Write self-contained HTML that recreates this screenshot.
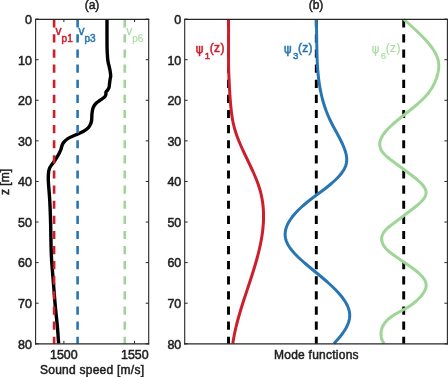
<!DOCTYPE html><html><head><meta charset="utf-8"><style>html,body{margin:0;padding:0;background:#fff;overflow:hidden}svg{display:block;filter:blur(0.3px)}</style></head><body><svg width="448" height="377" viewBox="0 0 448 377" font-family="Liberation Sans, Arial, Helvetica, sans-serif"><rect width="448" height="377" fill="#fff"/><path d="M107.00,19.00 C107.00,21.67 106.98,30.00 107.00,35.00 C107.02,40.00 107.00,45.17 107.10,49.00 C107.20,52.83 107.42,55.75 107.60,58.00 C107.78,60.25 107.92,61.00 108.20,62.50 C108.48,64.00 108.97,65.50 109.30,67.00 C109.63,68.50 109.97,70.00 110.20,71.50 C110.43,73.00 110.70,74.80 110.70,76.00 C110.70,77.20 110.38,77.53 110.20,78.70 C110.02,79.87 109.80,81.53 109.60,83.00 C109.40,84.47 109.35,86.30 109.00,87.50 C108.65,88.70 108.00,89.45 107.50,90.20 C107.00,90.95 106.28,91.25 106.00,92.00 C105.72,92.75 106.10,93.80 105.80,94.70 C105.50,95.60 105.12,96.50 104.20,97.40 C103.28,98.30 101.57,99.20 100.30,100.10 C99.03,101.00 97.60,101.90 96.60,102.80 C95.60,103.70 94.95,104.45 94.30,105.50 C93.65,106.55 93.08,107.75 92.70,109.10 C92.32,110.45 92.15,112.28 92.00,113.60 C91.85,114.92 91.87,115.87 91.80,117.00 C91.73,118.13 91.80,119.23 91.60,120.40 C91.40,121.57 91.13,122.80 90.60,124.00 C90.07,125.20 89.57,126.40 88.40,127.60 C87.23,128.80 85.67,130.00 83.60,131.20 C81.53,132.40 78.57,133.60 76.00,134.80 C73.43,136.00 70.20,137.20 68.20,138.40 C66.20,139.60 65.00,140.90 64.00,142.00 C63.00,143.10 62.72,143.75 62.20,145.00 C61.68,146.25 61.47,148.00 60.90,149.50 C60.33,151.00 59.60,152.50 58.80,154.00 C58.00,155.50 57.07,157.00 56.10,158.50 C55.13,160.00 54.03,161.50 53.00,163.00 C51.97,164.50 50.63,166.00 49.90,167.50 C49.17,169.00 48.87,170.08 48.60,172.00 C48.33,173.92 48.30,176.83 48.30,179.00 C48.30,181.17 48.35,181.28 48.60,185.00 C48.85,188.72 49.47,195.03 49.80,201.30 C50.13,207.57 50.40,215.52 50.60,222.60 C50.80,229.68 50.83,237.57 51.00,243.80 C51.17,250.03 51.20,253.53 51.60,260.00 C52.00,266.47 52.80,275.07 53.40,282.60 C54.00,290.13 54.52,297.67 55.20,305.20 C55.88,312.73 56.93,321.42 57.50,327.80 C58.07,334.18 58.42,340.88 58.60,343.50" fill="none" stroke="#000" stroke-width="3.4" stroke-linejoin="round"/><line x1="77.6" y1="19.200000000000003" x2="77.6" y2="343.8" stroke="#2776b3" stroke-width="2.6" stroke-dasharray="8.2 6.92"/><line x1="124.75" y1="19.200000000000003" x2="124.75" y2="343.8" stroke="#9fd597" stroke-width="2.6" stroke-dasharray="8.2 6.92"/><line x1="54.1" y1="19.200000000000003" x2="54.1" y2="343.8" stroke="#cc1e2b" stroke-width="2.6" stroke-dasharray="8.2 6.92"/><line x1="228.5" y1="19.200000000000003" x2="228.5" y2="343.8" stroke="#000" stroke-width="2.9" stroke-dasharray="8.2 6.92"/><line x1="316.3" y1="19.200000000000003" x2="316.3" y2="343.8" stroke="#000" stroke-width="2.9" stroke-dasharray="8.2 6.92"/><line x1="403.7" y1="19.200000000000003" x2="403.7" y2="343.8" stroke="#000" stroke-width="2.9" stroke-dasharray="8.2 6.92"/><path d="M228.55,19.00 L228.55,20.50 L228.55,22.00 L228.55,23.50 L228.55,25.00 L228.55,26.50 L228.55,28.00 L228.55,29.50 L228.55,31.00 L228.55,32.50 L228.55,34.00 L228.55,35.50 L228.55,37.00 L228.55,38.50 L228.55,40.00 L228.55,41.50 L228.55,43.00 L228.55,44.50 L228.55,46.00 L228.55,47.50 L228.55,49.00 L228.55,50.50 L228.55,52.00 L228.55,53.50 L228.55,55.00 L228.55,56.50 L228.55,58.00 L228.55,59.50 L228.55,61.00 L228.55,62.50 L228.56,64.00 L228.58,65.50 L228.60,67.00 L228.63,68.50 L228.66,70.00 L228.70,71.50 L228.75,73.00 L228.81,74.50 L228.88,76.00 L228.96,77.50 L229.05,79.00 L229.13,80.50 L229.19,82.00 L229.26,83.50 L229.33,85.00 L229.40,86.50 L229.48,88.00 L229.56,89.50 L229.65,91.00 L229.74,92.50 L229.83,94.00 L229.93,95.50 L230.03,97.00 L230.14,98.50 L230.26,100.00 L230.38,101.50 L230.50,103.00 L230.63,104.50 L230.77,106.00 L230.91,107.50 L231.07,109.00 L231.23,110.50 L231.41,112.00 L231.60,113.50 L231.80,115.00 L232.03,116.50 L232.27,118.00 L232.52,119.50 L232.80,121.00 L233.11,122.50 L233.43,124.00 L233.78,125.50 L234.16,127.00 L234.56,128.50 L234.99,130.00 L235.45,131.50 L235.93,133.00 L236.44,134.50 L236.97,136.00 L237.52,137.50 L238.10,139.00 L238.69,140.50 L239.30,142.00 L239.93,143.50 L240.57,145.00 L241.23,146.50 L241.90,148.00 L242.58,149.50 L243.27,151.00 L243.97,152.50 L244.68,154.00 L245.39,155.50 L246.11,157.00 L246.83,158.50 L247.55,160.00 L248.27,161.50 L248.99,163.00 L249.70,164.50 L250.42,166.00 L251.12,167.50 L251.82,169.00 L252.51,170.50 L253.19,172.00 L253.86,173.50 L254.51,175.00 L255.15,176.50 L255.77,178.00 L256.38,179.50 L256.96,181.00 L257.53,182.50 L258.07,184.00 L258.59,185.50 L259.09,187.00 L259.55,188.50 L260.00,190.00 L260.41,191.50 L260.79,193.00 L261.15,194.50 L261.48,196.00 L261.79,197.50 L262.07,199.00 L262.32,200.50 L262.55,202.00 L262.75,203.50 L262.93,205.00 L263.09,206.50 L263.22,208.00 L263.33,209.50 L263.41,211.00 L263.48,212.50 L263.52,214.00 L263.54,215.50 L263.55,217.00 L263.53,218.50 L263.49,220.00 L263.43,221.50 L263.35,223.00 L263.25,224.50 L263.14,226.00 L263.00,227.50 L262.85,229.00 L262.69,230.50 L262.50,232.00 L262.30,233.50 L262.09,235.00 L261.86,236.50 L261.61,238.00 L261.35,239.50 L261.08,241.00 L260.79,242.50 L260.49,244.00 L260.17,245.50 L259.85,247.00 L259.51,248.50 L259.16,250.00 L258.80,251.50 L258.43,253.00 L258.05,254.50 L257.66,256.00 L257.26,257.50 L256.85,259.00 L256.43,260.50 L256.01,262.00 L255.57,263.50 L255.13,265.00 L254.69,266.50 L254.23,268.00 L253.77,269.50 L253.31,271.00 L252.84,272.50 L252.36,274.00 L251.88,275.50 L251.40,277.00 L250.92,278.50 L250.43,280.00 L249.94,281.50 L249.44,283.00 L248.95,284.50 L248.45,286.00 L247.95,287.50 L247.46,289.00 L246.96,290.50 L246.46,292.00 L245.97,293.50 L245.47,295.00 L244.98,296.50 L244.49,298.00 L244.00,299.50 L243.51,301.00 L243.03,302.50 L242.55,304.00 L242.08,305.50 L241.61,307.00 L241.15,308.50 L240.69,310.00 L240.24,311.50 L239.79,313.00 L239.35,314.50 L238.92,316.00 L238.50,317.50 L238.08,319.00 L237.67,320.50 L237.28,322.00 L236.89,323.50 L236.51,325.00 L236.14,326.50 L235.78,328.00 L235.44,329.50 L235.10,331.00 L234.78,332.50 L234.47,334.00 L234.17,335.50 L233.88,337.00 L233.61,338.50 L233.35,340.00 L233.11,341.50 L232.88,343.00 L232.81,343.50" fill="none" stroke="#cc1e2b" stroke-width="3.0"/><path d="M316.22,19.00 L316.29,20.50 L316.34,22.00 L316.40,23.50 L316.44,25.00 L316.48,26.50 L316.52,28.00 L316.55,29.50 L316.58,31.00 L316.61,32.50 L316.64,34.00 L316.66,35.50 L316.68,37.00 L316.70,38.50 L316.72,40.00 L316.74,41.50 L316.76,43.00 L316.78,44.50 L316.80,46.00 L316.83,47.50 L316.86,49.00 L316.89,50.50 L316.92,52.00 L316.96,53.50 L317.00,55.00 L317.04,56.50 L317.10,58.00 L317.15,59.50 L317.22,61.00 L317.29,62.50 L317.37,64.00 L317.45,65.50 L317.55,67.00 L317.65,68.50 L317.76,70.00 L317.88,71.50 L318.02,73.00 L318.16,74.50 L318.31,76.00 L318.48,77.50 L318.66,79.00 L318.85,80.50 L319.05,82.00 L319.27,83.50 L319.50,85.00 L319.74,86.50 L320.01,88.00 L320.28,89.50 L320.57,91.00 L320.88,92.50 L321.21,94.00 L321.55,95.50 L321.91,97.00 L322.29,98.50 L322.69,100.00 L323.11,101.50 L323.55,103.00 L324.01,104.50 L324.49,106.00 L324.99,107.50 L325.51,109.00 L326.06,110.50 L326.62,112.00 L327.22,113.50 L327.83,115.00 L328.47,116.50 L329.13,118.00 L329.82,119.50 L330.54,121.00 L331.28,122.50 L332.04,124.00 L332.82,125.50 L333.62,127.00 L334.43,128.50 L335.24,130.00 L336.06,131.50 L336.87,133.00 L337.68,134.50 L338.49,136.00 L339.28,137.50 L340.05,139.00 L340.81,140.50 L341.54,142.00 L342.24,143.50 L342.92,145.00 L343.55,146.50 L344.15,148.00 L344.71,149.50 L345.21,151.00 L345.66,152.50 L346.04,154.00 L346.35,155.50 L346.57,157.00 L346.69,158.50 L346.72,160.00 L346.63,161.50 L346.43,163.00 L346.09,164.50 L345.62,166.00 L345.01,167.50 L344.26,169.00 L343.39,170.50 L342.40,172.00 L341.30,173.50 L340.08,175.00 L338.77,176.50 L337.36,178.00 L335.85,179.50 L334.26,181.00 L332.60,182.50 L330.86,184.00 L329.05,185.50 L327.18,187.00 L325.26,188.50 L323.28,190.00 L321.27,191.50 L319.24,193.00 L317.20,194.50 L315.16,196.00 L313.15,197.50 L311.19,199.00 L309.27,200.50 L307.40,202.00 L305.59,203.50 L303.83,205.00 L302.14,206.50 L300.50,208.00 L298.94,209.50 L297.44,211.00 L296.01,212.50 L294.66,214.00 L293.39,215.50 L292.19,217.00 L291.08,218.50 L290.05,220.00 L289.12,221.50 L288.27,223.00 L287.52,224.50 L286.87,226.00 L286.31,227.50 L285.86,229.00 L285.52,230.50 L285.28,232.00 L285.15,233.50 L285.14,235.00 L285.25,236.50 L285.47,238.00 L285.82,239.50 L286.30,241.00 L286.90,242.50 L287.62,244.00 L288.46,245.50 L289.41,247.00 L290.46,248.50 L291.61,250.00 L292.85,251.50 L294.17,253.00 L295.57,254.50 L297.04,256.00 L298.57,257.50 L300.17,259.00 L301.81,260.50 L303.50,262.00 L305.23,263.50 L306.99,265.00 L308.78,266.50 L310.59,268.00 L312.41,269.50 L314.24,271.00 L316.07,272.50 L317.90,274.00 L319.71,275.50 L321.51,277.00 L323.28,278.50 L325.03,280.00 L326.75,281.50 L328.44,283.00 L330.09,284.50 L331.70,286.00 L333.27,287.50 L334.79,289.00 L336.26,290.50 L337.67,292.00 L339.03,293.50 L340.32,295.00 L341.55,296.50 L342.70,298.00 L343.78,299.50 L344.78,301.00 L345.71,302.50 L346.54,304.00 L347.29,305.50 L347.94,307.00 L348.50,308.50 L348.96,310.00 L349.31,311.50 L349.56,313.00 L349.69,314.50 L349.71,316.00 L349.61,317.50 L349.40,319.00 L349.09,320.50 L348.67,322.00 L348.15,323.50 L347.54,325.00 L346.84,326.50 L346.05,328.00 L345.19,329.50 L344.24,331.00 L343.22,332.50 L342.14,334.00 L340.99,335.50 L339.77,337.00 L338.51,338.50 L337.19,340.00 L335.82,341.50 L334.41,343.00 L333.93,343.50" fill="none" stroke="#2776b3" stroke-width="3.0"/><path d="M403.57,19.00 L405.22,20.50 L406.88,22.00 L408.53,23.50 L410.18,25.00 L411.82,26.50 L413.45,28.00 L415.07,29.50 L416.66,31.00 L418.24,32.50 L419.78,34.00 L421.30,35.50 L422.77,37.00 L424.21,38.50 L425.61,40.00 L426.95,41.50 L428.25,43.00 L429.49,44.50 L430.67,46.00 L431.79,47.50 L432.84,49.00 L433.82,50.50 L434.72,52.00 L435.54,53.50 L436.28,55.00 L436.94,56.50 L437.50,58.00 L437.96,59.50 L438.33,61.00 L438.59,62.50 L438.75,64.00 L438.81,65.50 L438.78,67.00 L438.67,68.50 L438.48,70.00 L438.23,71.50 L437.91,73.00 L437.54,74.50 L437.12,76.00 L436.65,77.50 L436.14,79.00 L435.58,80.50 L434.96,82.00 L434.28,83.50 L433.54,85.00 L432.73,86.50 L431.86,88.00 L430.91,89.50 L429.88,91.00 L428.78,92.50 L427.59,94.00 L426.31,95.50 L424.94,97.00 L423.49,98.50 L421.96,100.00 L420.35,101.50 L418.68,103.00 L416.96,104.50 L415.19,106.00 L413.38,107.50 L411.53,109.00 L409.67,110.50 L407.78,112.00 L405.89,113.50 L404.00,115.00 L402.12,116.50 L400.25,118.00 L398.40,119.50 L396.59,121.00 L394.82,122.50 L393.10,124.00 L391.44,125.50 L389.85,127.00 L388.34,128.50 L386.93,130.00 L385.61,131.50 L384.40,133.00 L383.30,134.50 L382.34,136.00 L381.51,137.50 L380.82,139.00 L380.29,140.50 L379.93,142.00 L379.74,143.50 L379.74,145.00 L379.93,146.50 L380.32,148.00 L380.92,149.50 L381.75,151.00 L382.80,152.50 L384.10,154.00 L385.60,155.50 L387.28,157.00 L389.10,158.50 L391.03,160.00 L393.02,161.50 L395.04,163.00 L397.09,164.50 L399.14,166.00 L401.19,167.50 L403.24,169.00 L405.29,170.50 L407.31,172.00 L409.32,173.50 L411.29,175.00 L413.23,176.50 L415.13,178.00 L416.94,179.50 L418.66,181.00 L420.26,182.50 L421.72,184.00 L423.01,185.50 L424.10,187.00 L424.98,188.50 L425.63,190.00 L426.01,191.50 L426.10,193.00 L425.89,194.50 L425.38,196.00 L424.60,197.50 L423.58,199.00 L422.33,200.50 L420.90,202.00 L419.31,203.50 L417.59,205.00 L415.75,206.50 L413.84,208.00 L411.87,209.50 L409.88,211.00 L407.90,212.50 L405.93,214.00 L403.98,215.50 L402.04,217.00 L400.08,218.50 L398.10,220.00 L396.08,221.50 L394.04,223.00 L392.04,224.50 L390.12,226.00 L388.31,227.50 L386.66,229.00 L385.21,230.50 L384.01,232.00 L383.06,233.50 L382.37,235.00 L381.91,236.50 L381.68,238.00 L381.67,239.50 L381.87,241.00 L382.27,242.50 L382.85,244.00 L383.62,245.50 L384.58,247.00 L385.77,248.50 L387.25,250.00 L388.98,251.50 L390.88,253.00 L392.87,254.50 L394.95,256.00 L397.09,257.50 L399.27,259.00 L401.48,260.50 L403.71,262.00 L405.92,263.50 L408.11,265.00 L410.26,266.50 L412.34,268.00 L414.35,269.50 L416.26,271.00 L418.06,272.50 L419.73,274.00 L421.24,275.50 L422.59,277.00 L423.75,278.50 L424.70,280.00 L425.42,281.50 L425.90,283.00 L426.13,284.50 L426.13,286.00 L425.91,287.50 L425.48,289.00 L424.86,290.50 L424.05,292.00 L423.09,293.50 L421.96,295.00 L420.70,296.50 L419.32,298.00 L417.82,299.50 L416.23,301.00 L414.51,302.50 L412.64,304.00 L410.58,305.50 L408.27,307.00 L405.69,308.50 L402.93,310.00 L400.10,311.50 L397.33,313.00 L394.74,314.50 L392.41,316.00 L390.33,317.50 L388.50,319.00 L386.90,320.50 L385.53,322.00 L384.36,323.50 L383.39,325.00 L382.61,326.50 L382.00,328.00 L381.54,329.50 L381.24,331.00 L381.07,332.50 L381.02,334.00 L381.09,335.50 L381.25,337.00 L381.56,338.50 L382.05,340.00 L382.78,341.50 L383.80,343.00 L384.21,343.50" fill="none" stroke="#9fd597" stroke-width="3.0"/><g stroke="#262626" stroke-width="1" fill="none"><line x1="35.050000000000004" y1="19.35" x2="149.25" y2="19.35" stroke-width="1.2"/><line x1="35.050000000000004" y1="343.95" x2="149.25" y2="343.95" stroke-width="1.3"/><line x1="35.6" y1="18.9" x2="35.6" y2="344.6" stroke-width="1.1"/><line x1="148.7" y1="18.9" x2="148.7" y2="344.6" stroke-width="1.1"/><line x1="184.14999999999998" y1="19.35" x2="447.95" y2="19.35" stroke-width="1.2"/><line x1="184.14999999999998" y1="343.95" x2="447.95" y2="343.95" stroke-width="1.3"/><line x1="184.7" y1="18.9" x2="184.7" y2="344.6" stroke-width="1.1"/><line x1="447.4" y1="18.9" x2="447.4" y2="344.6" stroke-width="1.1"/><line x1="35.6" y1="19.10" x2="38.6" y2="19.10"/><line x1="148.7" y1="19.10" x2="145.7" y2="19.10"/><line x1="35.6" y1="59.69" x2="38.6" y2="59.69"/><line x1="148.7" y1="59.69" x2="145.7" y2="59.69"/><line x1="35.6" y1="100.28" x2="38.6" y2="100.28"/><line x1="148.7" y1="100.28" x2="145.7" y2="100.28"/><line x1="35.6" y1="140.86" x2="38.6" y2="140.86"/><line x1="148.7" y1="140.86" x2="145.7" y2="140.86"/><line x1="35.6" y1="181.45" x2="38.6" y2="181.45"/><line x1="148.7" y1="181.45" x2="145.7" y2="181.45"/><line x1="35.6" y1="222.04" x2="38.6" y2="222.04"/><line x1="148.7" y1="222.04" x2="145.7" y2="222.04"/><line x1="35.6" y1="262.62" x2="38.6" y2="262.62"/><line x1="148.7" y1="262.62" x2="145.7" y2="262.62"/><line x1="35.6" y1="303.21" x2="38.6" y2="303.21"/><line x1="148.7" y1="303.21" x2="145.7" y2="303.21"/><line x1="35.6" y1="343.80" x2="38.6" y2="343.80"/><line x1="148.7" y1="343.80" x2="145.7" y2="343.80"/><line x1="184.7" y1="19.10" x2="187.7" y2="19.10"/><line x1="447.4" y1="19.10" x2="444.4" y2="19.10"/><line x1="184.7" y1="59.69" x2="187.7" y2="59.69"/><line x1="447.4" y1="59.69" x2="444.4" y2="59.69"/><line x1="184.7" y1="100.28" x2="187.7" y2="100.28"/><line x1="447.4" y1="100.28" x2="444.4" y2="100.28"/><line x1="184.7" y1="140.86" x2="187.7" y2="140.86"/><line x1="447.4" y1="140.86" x2="444.4" y2="140.86"/><line x1="184.7" y1="181.45" x2="187.7" y2="181.45"/><line x1="447.4" y1="181.45" x2="444.4" y2="181.45"/><line x1="184.7" y1="222.04" x2="187.7" y2="222.04"/><line x1="447.4" y1="222.04" x2="444.4" y2="222.04"/><line x1="184.7" y1="262.62" x2="187.7" y2="262.62"/><line x1="447.4" y1="262.62" x2="444.4" y2="262.62"/><line x1="184.7" y1="303.21" x2="187.7" y2="303.21"/><line x1="447.4" y1="303.21" x2="444.4" y2="303.21"/><line x1="184.7" y1="343.80" x2="187.7" y2="343.80"/><line x1="447.4" y1="343.80" x2="444.4" y2="343.80"/><line x1="63.88" y1="343.8" x2="63.88" y2="340.8"/><line x1="63.88" y1="19.1" x2="63.88" y2="22.1"/><line x1="134.56" y1="343.8" x2="134.56" y2="340.8"/><line x1="134.56" y1="19.1" x2="134.56" y2="22.1"/></g><text x="32" y="23.95" font-size="12" fill="#1e1e1e" stroke="#1e1e1e" stroke-width="0.5" text-anchor="end" textLength="6.94" lengthAdjust="spacingAndGlyphs">0</text><text x="181.3" y="23.95" font-size="12" fill="#1e1e1e" stroke="#1e1e1e" stroke-width="0.5" text-anchor="end" textLength="6.94" lengthAdjust="spacingAndGlyphs">0</text><text x="32" y="64.54" font-size="12" fill="#1e1e1e" stroke="#1e1e1e" stroke-width="0.5" text-anchor="end" textLength="13.88" lengthAdjust="spacingAndGlyphs">10</text><text x="181.3" y="64.54" font-size="12" fill="#1e1e1e" stroke="#1e1e1e" stroke-width="0.5" text-anchor="end" textLength="13.88" lengthAdjust="spacingAndGlyphs">10</text><text x="32" y="105.12" font-size="12" fill="#1e1e1e" stroke="#1e1e1e" stroke-width="0.5" text-anchor="end" textLength="13.88" lengthAdjust="spacingAndGlyphs">20</text><text x="181.3" y="105.12" font-size="12" fill="#1e1e1e" stroke="#1e1e1e" stroke-width="0.5" text-anchor="end" textLength="13.88" lengthAdjust="spacingAndGlyphs">20</text><text x="32" y="145.71" font-size="12" fill="#1e1e1e" stroke="#1e1e1e" stroke-width="0.5" text-anchor="end" textLength="13.88" lengthAdjust="spacingAndGlyphs">30</text><text x="181.3" y="145.71" font-size="12" fill="#1e1e1e" stroke="#1e1e1e" stroke-width="0.5" text-anchor="end" textLength="13.88" lengthAdjust="spacingAndGlyphs">30</text><text x="32" y="186.30" font-size="12" fill="#1e1e1e" stroke="#1e1e1e" stroke-width="0.5" text-anchor="end" textLength="13.88" lengthAdjust="spacingAndGlyphs">40</text><text x="181.3" y="186.30" font-size="12" fill="#1e1e1e" stroke="#1e1e1e" stroke-width="0.5" text-anchor="end" textLength="13.88" lengthAdjust="spacingAndGlyphs">40</text><text x="32" y="226.89" font-size="12" fill="#1e1e1e" stroke="#1e1e1e" stroke-width="0.5" text-anchor="end" textLength="13.88" lengthAdjust="spacingAndGlyphs">50</text><text x="181.3" y="226.89" font-size="12" fill="#1e1e1e" stroke="#1e1e1e" stroke-width="0.5" text-anchor="end" textLength="13.88" lengthAdjust="spacingAndGlyphs">50</text><text x="32" y="267.48" font-size="12" fill="#1e1e1e" stroke="#1e1e1e" stroke-width="0.5" text-anchor="end" textLength="13.88" lengthAdjust="spacingAndGlyphs">60</text><text x="181.3" y="267.48" font-size="12" fill="#1e1e1e" stroke="#1e1e1e" stroke-width="0.5" text-anchor="end" textLength="13.88" lengthAdjust="spacingAndGlyphs">60</text><text x="32" y="308.06" font-size="12" fill="#1e1e1e" stroke="#1e1e1e" stroke-width="0.5" text-anchor="end" textLength="13.88" lengthAdjust="spacingAndGlyphs">70</text><text x="181.3" y="308.06" font-size="12" fill="#1e1e1e" stroke="#1e1e1e" stroke-width="0.5" text-anchor="end" textLength="13.88" lengthAdjust="spacingAndGlyphs">70</text><text x="32" y="348.65" font-size="12" fill="#1e1e1e" stroke="#1e1e1e" stroke-width="0.5" text-anchor="end" textLength="13.88" lengthAdjust="spacingAndGlyphs">80</text><text x="181.3" y="348.65" font-size="12" fill="#1e1e1e" stroke="#1e1e1e" stroke-width="0.5" text-anchor="end" textLength="13.88" lengthAdjust="spacingAndGlyphs">80</text><text x="63.88" y="359" font-size="12" fill="#1e1e1e" stroke="#1e1e1e" stroke-width="0.5" text-anchor="middle" textLength="27.6" lengthAdjust="spacingAndGlyphs">1500</text><text x="134.86" y="359" font-size="12" fill="#1e1e1e" stroke="#1e1e1e" stroke-width="0.5" text-anchor="middle" textLength="27.6" lengthAdjust="spacingAndGlyphs">1550</text><text x="92.0" y="373.7" font-size="12" fill="#1e1e1e" stroke="#1e1e1e" stroke-width="0.5" text-anchor="middle" textLength="104" lengthAdjust="spacing">Sound speed [m/s]</text><text x="316.3" y="359" font-size="12" fill="#1e1e1e" stroke="#1e1e1e" stroke-width="0.5" text-anchor="middle" textLength="84.5" lengthAdjust="spacing">Mode functions</text><text x="92" y="9.3" font-size="12" fill="#1e1e1e" stroke="#1e1e1e" stroke-width="0.5" text-anchor="middle">(a)</text><text x="316" y="9.3" font-size="12" fill="#1e1e1e" stroke="#1e1e1e" stroke-width="0.5" text-anchor="middle">(b)</text><text x="0" y="0" font-size="12" fill="#1e1e1e" stroke="#1e1e1e" stroke-width="0.5" text-anchor="middle" transform="translate(8.8,182) rotate(-90)">z [m]</text><text x="55.6" y="34.6" font-size="12" fill="#cc1e2b" stroke="#cc1e2b" stroke-width="0.5">v</text><text x="61.6" y="42.0" font-size="10" fill="#cc1e2b" stroke="#cc1e2b" stroke-width="0.5">p1</text><text x="78.4" y="34.6" font-size="12" fill="#2776b3" stroke="#2776b3" stroke-width="0.5">v</text><text x="84.4" y="42.0" font-size="10" fill="#2776b3" stroke="#2776b3" stroke-width="0.5">p3</text><text x="126.3" y="34.6" font-size="12" fill="#a9dca2" stroke="#a9dca2" stroke-width="0.15">v</text><text x="132.3" y="42.0" font-size="10" fill="#a9dca2" stroke="#a9dca2" stroke-width="0.15">p6</text><text x="195.8" y="52.6" font-size="11.5" fill="#cc1e2b" stroke="#cc1e2b" stroke-width="0.5" font-family="DejaVu Sans, sans-serif">ψ</text><text x="204.7" y="58.9" font-size="9.6" fill="#cc1e2b" stroke="#cc1e2b" stroke-width="0.5">1</text><text x="209.8" y="51.8" font-size="12" fill="#cc1e2b" stroke="#cc1e2b" stroke-width="0.5" textLength="14.6" lengthAdjust="spacing">(z)</text><text x="284.0" y="52.6" font-size="11.5" fill="#2776b3" stroke="#2776b3" stroke-width="0.5" font-family="DejaVu Sans, sans-serif">ψ</text><text x="292.9" y="58.9" font-size="9.6" fill="#2776b3" stroke="#2776b3" stroke-width="0.5">3</text><text x="298.0" y="51.8" font-size="12" fill="#2776b3" stroke="#2776b3" stroke-width="0.5" textLength="14.6" lengthAdjust="spacing">(z)</text><text x="371.8" y="52.6" font-size="11.5" fill="#a9dca2" stroke="#a9dca2" stroke-width="0.15" font-family="DejaVu Sans, sans-serif">ψ</text><text x="380.7" y="58.9" font-size="9.6" fill="#a9dca2" stroke="#a9dca2" stroke-width="0.15">6</text><text x="385.8" y="51.8" font-size="12" fill="#a9dca2" stroke="#a9dca2" stroke-width="0.15" textLength="14.6" lengthAdjust="spacing">(z)</text></svg></body></html>
